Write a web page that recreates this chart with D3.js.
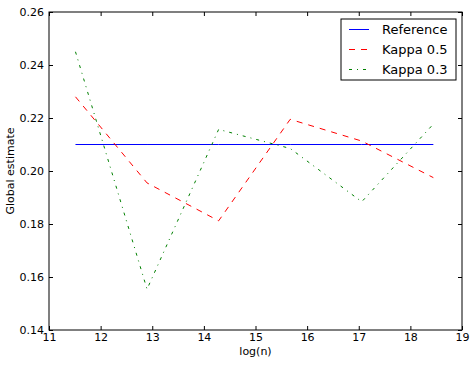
<!DOCTYPE html>
<html><head><meta charset="utf-8">
<script src="https://cdn.jsdelivr.net/npm/d3@7"></script>
<style>body{margin:0;background:#fff;}svg{display:block;font-family:"DejaVu Sans",sans-serif;}</style>
</head><body><svg id="c" width="474" height="366"></svg>
<script>
const logN = [11.513, 12.899, 14.286, 15.672, 17.058, 18.445];
const reference = [0.21, 0.21, 0.21, 0.21, 0.21, 0.21];
const kappa05 = [0.228, 0.1955, 0.1812, 0.2195, 0.2113, 0.1975];
const kappa03 = [0.245, 0.1554, 0.2157, 0.2085, 0.1884, 0.2177];
const xTicks = [11, 12, 13, 14, 15, 16, 17, 18, 19];
const yTicks = [0.14, 0.16, 0.18, 0.20, 0.22, 0.24, 0.26];
const seriesNames = ["Reference", "Kappa 0.5", "Kappa 0.3"];

const svg = d3.select("#c");
const L = 49, R = 462, T = 12, B = 330;
const x = d3.scaleLinear().domain([11, 19]).range([L, R]);
const y = d3.scaleLinear().domain([0.14, 0.26]).range([B, T]);

const series = [
  {name: seriesNames[0], vals: reference, color: "#0000ff", dash: null},
  {name: seriesNames[1], vals: kappa05, color: "#ff0000", dash: "6,6"},
  {name: seriesNames[2], vals: kappa03, color: "#008000", dash: "3,5,1,5"}
];
const line = d3.line().x(d => x(d[0])).y(d => y(d[1]));
series.forEach(s => {
  svg.append("path").datum(logN.map((v, i) => [v, s.vals[i]]))
    .attr("d", line).attr("fill", "none").attr("stroke", s.color)
    .attr("stroke-width", 1).attr("stroke-dasharray", s.dash);
});

const fmt = d3.format(".2f");
const gB = svg.append("g").attr("transform", `translate(0,${B})`)
  .call(d3.axisBottom(x).tickValues(xTicks).tickSizeInner(-4).tickSizeOuter(0).tickPadding(3));
const gT = svg.append("g").attr("transform", `translate(0,${T})`)
  .call(d3.axisTop(x).tickValues(xTicks).tickSizeInner(-4).tickSizeOuter(0).tickFormat(""));
const gL = svg.append("g").attr("transform", `translate(${L},0)`)
  .call(d3.axisLeft(y).tickValues(yTicks).tickSizeInner(-4).tickSizeOuter(0).tickPadding(5).tickFormat(fmt));
const gR = svg.append("g").attr("transform", `translate(${R},0)`)
  .call(d3.axisRight(y).tickValues(yTicks).tickSizeInner(-4).tickSizeOuter(0).tickFormat(""));
[gB, gT, gL, gR].forEach(g => {
  g.select(".domain").remove();
  g.selectAll("text").attr("font-size", 11).attr("font-family", "DejaVu Sans").attr("fill", "#000");
  g.selectAll("line").attr("stroke", "#000");
});
gB.selectAll("text").attr("dy", "0.71em");
svg.append("rect").attr("x", L).attr("y", T).attr("width", R - L).attr("height", B - T)
  .attr("fill", "none").attr("stroke", "#000").attr("stroke-width", 1);

svg.append("text").attr("x", (L + R) / 2).attr("y", 355).attr("text-anchor", "middle")
  .attr("font-size", 11).text("log(n)");
svg.append("text").attr("transform", `translate(14,${(T + B) / 2}) rotate(-90)`)
  .attr("text-anchor", "middle").attr("font-size", 11).text("Global estimate");

const lg = svg.append("g");
lg.append("rect").attr("x", 341).attr("y", 19).attr("width", 115).attr("height", 61)
  .attr("fill", "#fff").attr("stroke", "#000").attr("stroke-width", 1);
series.forEach((s, i) => {
  const yy = 29.5 + i * 20;
  lg.append("line").attr("x1", 349).attr("x2", 369).attr("y1", yy).attr("y2", yy)
    .attr("stroke", s.color).attr("stroke-width", 1).attr("stroke-dasharray", s.dash);
  lg.append("text").attr("x", 382).attr("y", yy).attr("dy", "0.35em")
    .attr("font-size", 13).text(s.name);
});
</script></body></html>
